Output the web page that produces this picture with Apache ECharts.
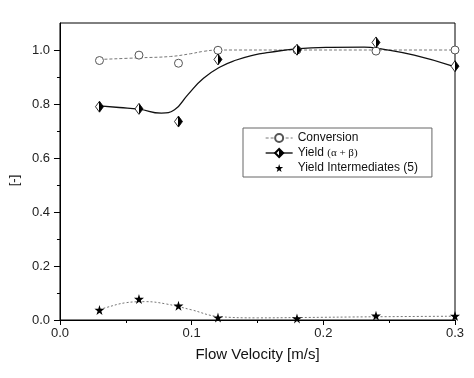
<!DOCTYPE html>
<html>
<head>
<meta charset="utf-8">
<script src="https://cdn.jsdelivr.net/npm/echarts@6/dist/echarts.min.js"></script>
<style>html,body{margin:0;padding:0;background:#fff}#c{width:474px;height:378px}</style>
</head>
<body>
<div id="c"></div>
<script>
// ---- data ----
var velocity = [0.03, 0.06, 0.09, 0.12, 0.18, 0.24, 0.30];
var conversion = [0.961, 0.981, 0.951, 0.999, 1.000, 0.996, 1.000];
var yieldAB = [0.790, 0.782, 0.735, 0.965, 1.001, 1.028, 0.940];
var intermediates = [0.037, 0.078, 0.053, 0.009, 0.006, 0.016, 0.015];

// fitted curves
var convFitX = [0.03, 0.06, 0.084, 0.099, 0.109, 0.12, 0.18, 0.24, 0.30];
var convFitY = [0.965, 0.971, 0.976, 0.986, 0.995, 1.0, 1.0, 1.0, 1.0];
var yieldFitX = [0.03, 0.045, 0.06, 0.077, 0.087, 0.097, 0.109, 0.122, 0.134, 0.147, 0.159, 0.179, 0.206, 0.231, 0.244, 0.269, 0.297];
var yieldFitY = [0.793, 0.787, 0.781, 0.766, 0.779, 0.834, 0.895, 0.938, 0.963, 0.981, 0.991, 1.004, 1.010, 1.011, 1.004, 0.981, 0.942];
var interFitX = [0.03, 0.035, 0.05, 0.065, 0.080, 0.0996, 0.12, 0.15, 0.18, 0.24, 0.30];
var interFitY = [0.038, 0.046, 0.064, 0.068, 0.060, 0.038, 0.013, 0.008, 0.009, 0.012, 0.014];

var yMajor = [0, 0.2, 0.4, 0.6, 0.8, 1.0];
var yMinor = [0.1, 0.3, 0.5, 0.7, 0.9];

var seriesNames = ['Conversion', 'Yield (\u03b1 + \u03b2)', 'Yield Intermediates (5)'];

function pairs(xs, ys) { return xs.map(function (x, i) { return [x, ys[i]]; }); }

var starPath = 'path://M50,0 L61,35 L98,35 L68,57 L79,91 L50,70 L21,91 L32,57 L2,35 L39,35 Z';
var diamondPath = 'path://M0,-1 L1,0 L0,1 L-1,0 Z';
var halfFill = {
  type: 'linear', x: 0, y: 0, x2: 1, y2: 0,
  colorStops: [
    { offset: 0, color: '#fff' }, { offset: 0.5, color: '#fff' },
    { offset: 0.5, color: '#000' }, { offset: 1, color: '#000' }
  ]
};

var chart = echarts.init(document.getElementById('c'));
var font = 'Liberation Sans, Arial, sans-serif';
chart.setOption({
  animation: false,
  backgroundColor: '#fff',
  grid: { left: 54, right: 19, top: 23, bottom: 58, show: true, borderColor: '#000', borderWidth: 1, backgroundColor: 'transparent' },
  xAxis: {
    type: 'value', min: 0, max: 0.3, interval: 0.1,
    name: 'Flow Velocity [m/s]', nameLocation: 'middle', nameGap: 27,
    nameTextStyle: { fontFamily: font, fontSize: 15, color: '#111' },
    axisLine: { show: true, lineStyle: { color: '#000', width: 1 } },
    axisTick: { show: true, inside: false, length: 5, lineStyle: { color: '#000' } },
    minorTick: { show: true, splitNumber: 2, length: 3, lineStyle: { color: '#000' } },
    axisLabel: { fontFamily: font, fontSize: 13, color: '#222', margin: 7, formatter: function (v) { return v.toFixed(1); } },
    splitLine: { show: false }
  },
  yAxis: [{
    type: 'value', min: 0, max: 1.1,
    name: '[-]', nameLocation: 'middle', nameGap: 36, nameRotate: 90,
    nameTextStyle: { fontFamily: font, fontSize: 13, color: '#111', padding: [0, 18, 0, 0] },
    axisLine: { show: true, lineStyle: { color: '#000', width: 1 } },
    axisTick: { show: true, length: 6, customValues: yMajor, lineStyle: { color: '#000' } },
    axisLabel: { fontFamily: font, fontSize: 13, color: '#222', margin: 10, customValues: yMajor, formatter: function (v) { return v.toFixed(1); } },
    splitLine: { show: false }
  }, {
    type: 'value', min: 0, max: 1.1, position: 'left',
    axisLine: { show: false },
    axisTick: { show: true, length: 3, customValues: yMinor, lineStyle: { color: '#000' } },
    axisLabel: { show: false },
    splitLine: { show: false }
  }],
  legend: {
    left: 243, top: 128, orient: 'vertical',
    padding: [3, 14, 2, 22], itemGap: 1, itemWidth: 27, itemHeight: 10,
    borderColor: '#666', borderWidth: 1, backgroundColor: '#fff',
    selectedMode: false,
    textStyle: {
      fontFamily: font, fontSize: 12, color: '#111', lineHeight: 14,
      rich: { g: { fontFamily: 'Liberation Serif, Times New Roman, serif', fontSize: 11, color: '#111' } }
    },
    formatter: function (n) {
      if (n.indexOf('Yield (') === 0) return 'Yield {g|(\u03b1 + \u03b2)}';
      return n;
    },
    data: [
      { name: seriesNames[0], lineStyle: { color: '#777', width: 1, type: [3, 2], opacity: 1 } },
      { name: seriesNames[1], lineStyle: { color: '#000', width: 1.3, type: 'solid', opacity: 1 } },
      { name: seriesNames[2], lineStyle: { opacity: 0 } }
    ]
  },
  series: [
    { type: 'line', name: 'convFit', data: pairs(convFitX, convFitY), smooth: 0.4, symbol: 'none',
      lineStyle: { color: '#777', width: 1, type: [3, 2] }, z: 2, silent: true },
    { type: 'line', name: 'yieldFit', data: pairs(yieldFitX, yieldFitY), smooth: 0.5, symbol: 'none',
      lineStyle: { color: '#111', width: 1.3 }, z: 2, silent: true },
    { type: 'line', name: 'interFit', data: pairs(interFitX, interFitY), smooth: 0.4, symbol: 'none',
      lineStyle: { color: '#777', width: 1, type: [2, 2] }, z: 2, silent: true },
    { type: 'line', name: seriesNames[0], data: pairs(velocity, conversion), symbol: 'circle', symbolSize: 8,
      showAllSymbol: true, lineStyle: { opacity: 0, width: 0 },
      itemStyle: { color: '#fff', borderColor: '#555', borderWidth: 1 }, z: 5 },
    { type: 'line', name: seriesNames[1], data: pairs(velocity, yieldAB), symbol: diamondPath, symbolSize: [8, 11],
      symbolKeepAspect: false, showAllSymbol: true, lineStyle: { opacity: 0, width: 0 },
      itemStyle: { color: halfFill, borderColor: '#000', borderWidth: 0.8 }, z: 6 },
    { type: 'line', name: seriesNames[2], data: pairs(velocity, intermediates), symbol: starPath, symbolSize: 10,
      showAllSymbol: true, lineStyle: { opacity: 0, width: 0 },
      itemStyle: { color: '#000' }, z: 6 }
  ]
});
</script>
</body>
</html>
